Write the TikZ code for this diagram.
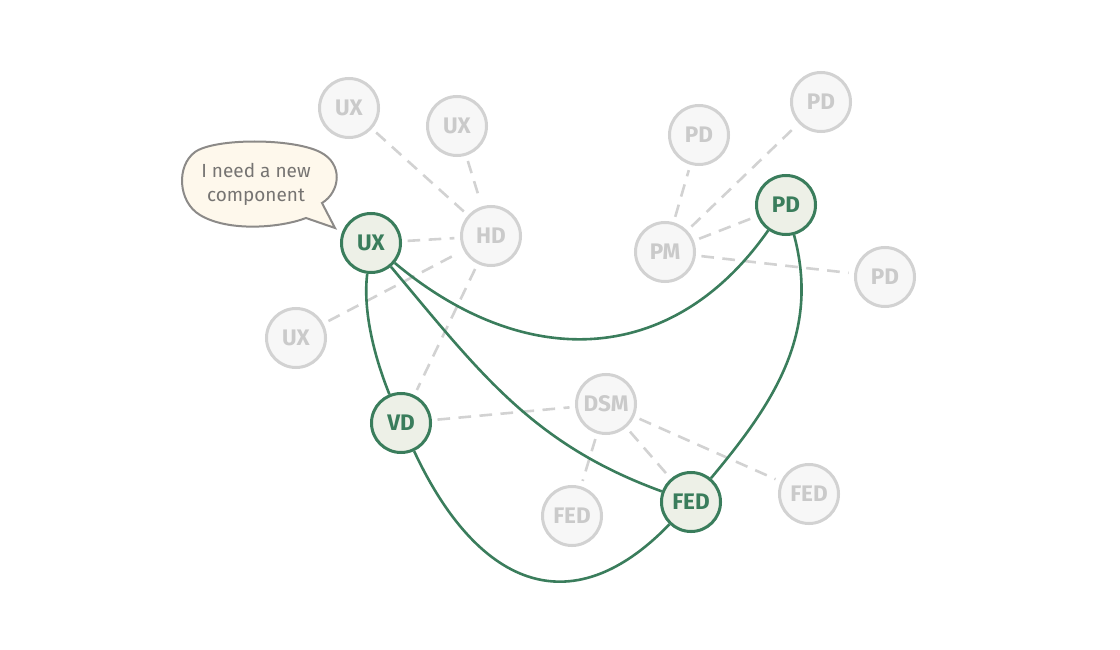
\documentclass[tikz,border=0pt]{standalone}
\usepackage{fontspec}
\setmainfont{Fira Sans}
\newfontfamily\notefont{Fira Sans}
\usetikzlibrary{backgrounds}
\definecolor{teamgreen}{HTML}{3A7D5C}
\definecolor{teamfill}{HTML}{EDF0E7}
\definecolor{idlegray}{HTML}{D2D2D2}
\definecolor{idletext}{HTML}{CACACA}
\definecolor{idlefill}{HTML}{F7F7F7}
\definecolor{notefill}{HTML}{FEF8EC}
\definecolor{noteline}{HTML}{8C8A88}
\definecolor{notetext}{HTML}{767472}
\begin{document}
\begin{tikzpicture}[x=0.025cm, y=-0.025cm]

\tikzstyle{member} = [circle, draw=idlegray, fill=idlefill, line width=0.075cm, minimum size=1.475cm, inner sep=0pt, text=idletext, font=\fontsize{16}{18}\selectfont\bfseries]
\tikzstyle{core} = [member, draw=teamgreen, fill=teamfill, text=teamgreen]
\tikzstyle{link} = [idlegray, line width=0.065cm, dash pattern=on 9pt off 6pt, shorten <=4pt, shorten >=4pt]
\tikzstyle{tie} = [teamgreen, line width=0.065cm]

\useasboundingbox (0,0) rectangle (1120,650);

% Faded members
\node (ux1) [member] at (349,108) {UX};
\node (ux2) [member] at (457,126) {UX};
\node (hd) [member] at (491,236) {HD};
\node (ux3) [member] at (296,338) {UX};
\node (pd1) [member] at (699,135) {PD};
\node (pd2) [member] at (821,102) {PD};
\node (pm) [member] at (665,252) {PM};
\node (pd3) [member] at (885,277) {PD};
\node (dsm) [member] at (606,404) {DSM};
\node (fed1) [member] at (572,516) {FED};
\node (fed2) [member] at (809,494) {FED};

% Active team
\node (ux) [core] at (371,243) {UX};
\node (pd) [core] at (786,205) {PD};
\node (vd) [core] at (401,423) {VD};
\node (fed) [core] at (691,502) {FED};

\begin{pgfonlayer}{background}
% Dashed links
\draw [link] (ux1) -- (hd);
\draw [link] (ux2) -- (hd);
\draw [link] (ux) -- (hd);
\draw [link] (ux3) -- (hd);
\draw [link] (hd) -- (vd);
\draw [link] (pm) -- (pd1);
\draw [link] (pm) -- (pd2);
\draw [link] (pm) -- (pd);
\draw [link] (pm) -- (pd3);
\draw [link] (vd) -- (dsm);
\draw [link] (dsm) -- (fed1);
\draw [link] (dsm) -- (fed);
\draw [link] (dsm) -- (fed2);

% Team ties
\draw [tie] (ux) to[out=-40, in=-125, looseness=1.15] (pd);
\draw [tie] (ux) to[out=-97, in=112, looseness=0.8] (vd);
\draw [tie] (ux) to[out=-50, in=160] (fed);
\draw [tie] (pd) to[out=-75, in=50] (fed);
\draw [tie] (vd) to[out=-65, in=-134, looseness=1.4] (fed);
\end{pgfonlayer}

% Speech bubble
\draw [noteline, fill=notefill, line width=0.05cm] (306,218) .. controls (280,228) and (228,232) .. (200,215) .. controls (178,202) and (176,166) .. (195,152) .. controls (215,138) and (292,138) .. (320,152) .. controls (344,164) and (340,192) .. (322,203) -- (335,228) -- cycle;
\node (note) [text=notetext, align=center, font=\notefont\fontsize{13.5}{17}\selectfont] at (256,184) {I need a new\\component};

\end{tikzpicture}
\end{document}
